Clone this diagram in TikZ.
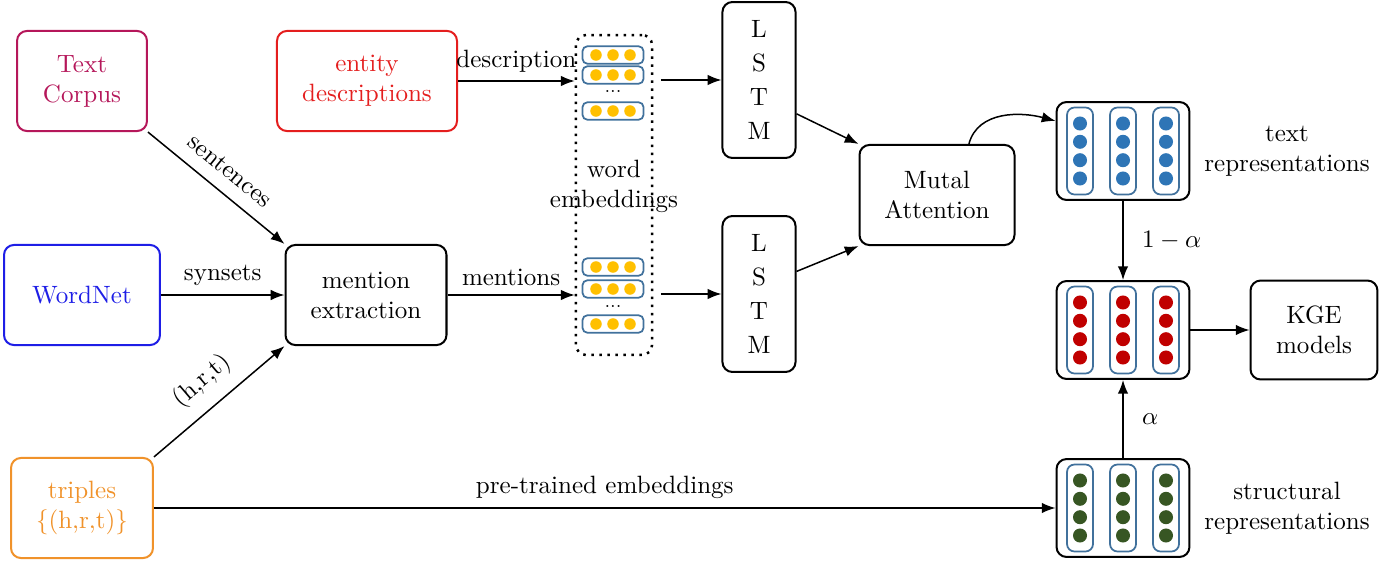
\documentclass[tikz,border=0pt]{standalone}
\usepackage{amsmath}
\usepackage{tikz}
\usetikzlibrary{arrows.meta,positioning,calc}
\definecolor{corpuscol}{HTML}{B5175A}
\definecolor{entcol}{HTML}{E41E1E}
\definecolor{netcol}{HTML}{1E1EE6}
\definecolor{triplecol}{HTML}{F0922A}
\definecolor{rowcol}{HTML}{41719C}
\definecolor{dyellow}{HTML}{FFC000}
\definecolor{dblue}{HTML}{2E75B6}
\definecolor{dred}{HTML}{C00000}
\definecolor{dgreen}{HTML}{375623}

\begin{document}
\begin{tikzpicture}[x=0.01404cm,y=0.01404cm,
      box/.style={draw,rounded corners=4pt,line width=0.8pt,align=center,
                  minimum height=40pt},
      reprbox/.style={draw,rounded corners=4pt,line width=0.8pt,
                  minimum width=53.1pt,minimum height=39.1pt},
      rowbox/.style={draw=rowcol,rounded corners=2pt,line width=0.7pt,
                  minimum width=24.4pt,minimum height=7pt},
      colbox/.style={draw=rowcol,rounded corners=3pt,line width=0.7pt},
      arr/.style={-{Latex[length=5.5pt,width=4.2pt]},line width=0.6pt}]
    \useasboundingbox (0,0) rectangle (1381,564);
    % inputs
    \node[box,draw=corpuscol,text=corpuscol,minimum width=51.9pt] (corpus) at (82,483) {Text\\Corpus};
    \node[box,draw=entcol,text=entcol,minimum width=71.9pt] (ent) at (367,483) {entity\\descriptions};
    \node[box,draw=netcol,text=netcol,minimum width=62.3pt] (wordnet) at (82,269) {WordNet};
    \node[box,draw=triplecol,text=triplecol,minimum width=56.7pt] (triples) at (82,56) {triples\\$\{$(h,r,t)$\}$};
    \node[box,minimum width=64.3pt] (mention) at (366,269) {mention\\extraction};
    % word embeddings
    \node[draw,rounded corners=4pt,line width=1pt,dash pattern=on 1pt off 2.2pt,
          minimum width=30.4pt,minimum height=127.8pt] (emb) at (614,369) {};
    \node[align=center] (emblbl) at (614,378) {word\\embeddings};
    \node[rowbox] (erow1) at (613,509) {};
    \node[rowbox] (erow2) at (613,489) {};
    \node[rowbox] (erow3) at (613,453) {};
    \node[font=\scriptsize] (edots) at (613,473) {...};
    \node[rowbox] (brow1) at (613,297) {};
    \node[rowbox] (brow2) at (613,275) {};
    \node[rowbox] (brow3) at (613,240) {};
    \node[font=\scriptsize] (bdots) at (613,258) {...};
    \foreach \r in {erow1,erow2,erow3,brow1,brow2,brow3}{
      \foreach \dx in {-17,0,17}{\fill[dyellow] ($(\r)+(\dx,0)$) circle (2.3pt);}}
    % encoders
    \node[box,minimum width=29.2pt,minimum height=62.3pt] (lstm1) at (759,484) {L\\[1.6pt]S\\[1.6pt]T\\[1.6pt]M};
    \node[box,minimum width=29.2pt,minimum height=62.3pt] (lstm2) at (759,270) {L\\[1.6pt]S\\[1.6pt]T\\[1.6pt]M};
    \node[box,minimum width=61.9pt] (att) at (937,369) {Mutal\\Attention};
    % representations
    \node[reprbox] (txt) at (1123,413) {};
    \node[reprbox] (mix) at (1123,234) {};
    \node[reprbox] (str) at (1123,56) {};
    \foreach \b/\c in {txt/dblue,mix/dred,str/dgreen}{
      \foreach \dx in {-43,0,43}{
        \draw[colbox] ($(\b)+(\dx-13,-43.5)$) rectangle ($(\b)+(\dx+13,43.5)$);
        \foreach \dy in {-27.5,-9.2,9.2,27.5}{\fill[\c] ($(\b)+(\dx,\dy)$) circle (2.8pt);}}}
    \node[align=center] (txtlbl) at (1287,413) {text\\representations};
    \node[align=center] (strlbl) at (1287,56) {structural\\representations};
    \node[box,minimum width=50.7pt,minimum height=39.5pt] (kge) at (1314,234) {KGE\\models};
    % connectors
    \draw[arr] (corpus.south east) -- node[midway,above=2pt,sloped] {sentences} (mention.north west);
    \draw[arr] (wordnet) -- node[midway,above] {synsets} (mention);
    \draw[arr] (triples.north east) -- node[midway,above=2pt,sloped] {(h,r,t)} (mention.south west);
    \draw[arr] (triples) -- node[midway,above] {pre-trained embeddings} (str);
    \draw[arr] (ent.east) -- node[midway,above] {description} (ent.east -| emb.west);
    \draw[arr] (mention.east) -- node[midway,above] {mentions} (mention.east -| emb.west);
    \draw[arr,shorten <=3pt] (emb.east |- lstm1) -- (lstm1);
    \draw[arr,shorten <=3pt] (emb.east |- lstm2) -- (lstm2);
    \draw[arr] (lstm1.-42) -- (att.north west);
    \draw[arr] (lstm2.31) -- (att.south west);
    \draw[arr] (att.58) to[out=75,in=165] (txt.156);
    \draw[arr] (txt) -- node[midway,right=4pt] {$1-\alpha$} (mix);
    \draw[arr] (str) -- node[midway,right=4pt] {$\alpha$} (mix);
    \draw[arr] (mix) -- (kge);
  \end{tikzpicture}
\end{document}
